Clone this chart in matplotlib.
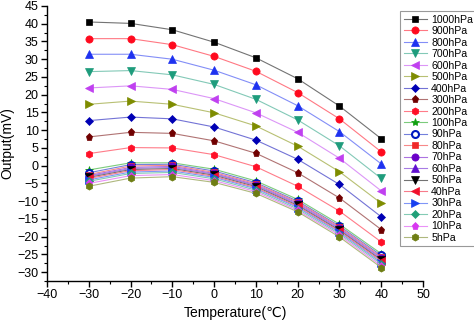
import matplotlib
matplotlib.use("Agg")
import matplotlib.pyplot as plt
import matplotlib.colors as mcolors
import numpy as np

plt.rcParams['font.family'] = ['Liberation Sans', 'DejaVu Sans']

temperature = [-30, -20, -10, 0, 10, 20, 30, 40]

labels = ["1000hPa", "900hPa", "800hPa", "700hPa", "600hPa", "500hPa", "400hPa",
          "300hPa", "200hPa", "100hPa", "90hPa", "80hPa", "70hPa", "60hPa",
          "50hPa", "40hPa", "30hPa", "20hPa", "10hPa", "5hPa"]

p1000 = [40.5, 40.1, 38.3, 34.8, 30.4, 24.5, 16.8, 7.6]
p900 = [35.8, 35.8, 34.1, 30.8, 26.6, 20.6, 13.2, 3.9]
p800 = [31.4, 31.4, 30.0, 26.9, 22.8, 16.9, 9.6, 0.5]
p700 = [26.5, 26.8, 25.6, 22.9, 18.7, 12.9, 5.6, -3.6]
p600 = [21.9, 22.5, 21.5, 18.9, 14.9, 9.4, 2.1, -7.1]
p500 = [17.3, 18.2, 17.3, 14.9, 11.2, 5.5, -1.7, -10.6]
p400 = [12.7, 13.7, 13.2, 10.9, 7.2, 1.8, -5.3, -14.4]
p300 = [8.1, 9.4, 9.1, 7.0, 3.5, -2.0, -9.1, -18.0]
p200 = [3.4, 5.1, 5.0, 3.1, -0.3, -5.8, -12.8, -21.5]
p100 = [-1.2, 0.8, 0.8, -1.0, -4.3, -9.5, -16.5, -24.8]
p90 = [-2.0, 0.3, 0.4, -1.5, -4.8, -10.0, -17.0, -25.3]
p80 = [-2.5, -0.1, 0.1, -1.9, -5.1, -10.3, -17.3, -25.7]
p70 = [-2.8, -0.5, -0.2, -2.2, -5.4, -10.6, -17.6, -26.0]
p60 = [-3.0, -0.8, -0.5, -2.4, -5.6, -10.9, -17.9, -26.3]
p50 = [-3.3, -1.1, -0.8, -2.7, -5.9, -11.2, -18.2, -26.6]
p40 = [-3.6, -1.4, -1.1, -3.0, -6.2, -11.5, -18.5, -26.9]
p30 = [-4.0, -1.8, -1.5, -3.3, -6.5, -11.8, -18.8, -27.3]
p20 = [-4.4, -2.2, -1.9, -3.7, -6.9, -12.2, -19.2, -27.7]
p10 = [-5.0, -2.8, -2.5, -4.2, -7.3, -12.6, -19.6, -28.2]
p5 = [-5.8, -3.5, -3.1, -4.7, -7.8, -13.0, -20.1, -28.7]

series = [p1000, p900, p800, p700, p600, p500, p400, p300, p200, p100,
          p90, p80, p70, p60, p50, p40, p30, p20, p10, p5]

colors = ['#000000', '#FF0A1E', '#1E32F0', '#1E9C7C', '#C040F0', '#7E8C00',
          '#0000B4', '#700000', '#FF1028', '#10A010', '#0018C0', '#F02828',
          '#6A00C8', '#6010D0', '#000000', '#F0102C', '#1840F0', '#20A078',
          '#D838F0', '#6E7E14']
markers = ['s', 'o', '^', 'v', '<', '>', 'D', 'p', 'h', '*', 'o', 's',
           'o', '^', 'v', '<', '>', 'D', 'p', 'h']
msizes = [4.5, 5.2, 5.2, 5.2, 5.2, 5.2, 4.3, 5.2, 5.2, 6, 5, 4.5,
          5.2, 5.2, 5.2, 5.2, 5.2, 4.3, 5.2, 5.2]

fig = plt.figure(figsize=(4.74, 3.26), dpi=100)
ax = fig.add_axes([47/474, 1-281/326, (423-47)/474, (281-6)/326])

white = np.array([1, 1, 1])
for i, (vals, lab) in enumerate(zip(series, labels)):
    c = np.array(mcolors.to_rgb(colors[i]))
    lc = c * 0.55 + white * 0.45
    if i == 0:
        lc = np.array([0.45, 0.45, 0.45])
    mfc = colors[i]
    mew = 0.5
    if i == 10:
        mfc = 'white'
        mew = 1.5
    ax.plot(temperature, vals, color=lc, lw=0.8, marker=markers[i],
            markersize=msizes[i], markerfacecolor=mfc,
            markeredgecolor=colors[i], markeredgewidth=mew, label=lab)

ax.set_xlim(-40, 50)
ax.set_ylim(-32.5, 45)
ax.set_xticks(np.arange(-40, 51, 10))
ax.set_yticks(np.arange(-30, 46, 5))
ax.set_xticks(np.arange(-35, 50, 10), minor=True)
ax.set_yticks(np.arange(-32.5, 45, 5), minor=True)
ax.spines['top'].set_visible(False)
ax.spines['right'].set_visible(False)
for s in ['left', 'bottom']:
    ax.spines[s].set_linewidth(1.0)
ax.tick_params(which='major', direction='out', length=4, width=1.0, labelsize=9, pad=2)
ax.tick_params(which='minor', direction='out', length=2.5, width=0.8)

ax.set_xlabel('Temperature(℃)', fontsize=10, labelpad=3)
ax.set_ylabel('Output(mV)', fontsize=10, labelpad=2)

leg = fig.legend(loc='upper left', bbox_to_anchor=(400/474, 1-11/326),
                 bbox_transform=fig.transFigure, fontsize=7.6, frameon=True,
                 fancybox=False, edgecolor='#808080', borderaxespad=0,
                 handlelength=2.2, labelspacing=0.14, borderpad=0.35,
                 handletextpad=0.4, markerscale=1.0)
leg.get_frame().set_linewidth(0.8)

fig.savefig('out.png', dpi=100)
